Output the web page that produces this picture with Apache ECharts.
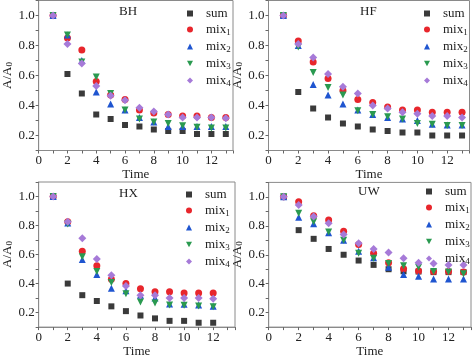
<!DOCTYPE html>
<html>
<head>
<meta charset="utf-8">
<script src="https://cdn.jsdelivr.net/npm/echarts@6/dist/echarts.min.js"></script>
<style>
    html, body { margin: 0; padding: 0; background: #fff; }
    #chart { width: 474px; height: 359px; }
</style>
</head>
<body>
<div id="chart"></div>
<script>
// Time points (x)
const times = [1, 2, 3, 4, 5, 6, 7, 8, 9, 10, 11, 12, 13];

// BH panel
const bhSum  = [1.0, 0.61, 0.48, 0.34, 0.31, 0.27, 0.26, 0.24, 0.23, 0.23, 0.21, 0.21, 0.21];
const bhMix1 = [1.0, 0.85, 0.77, 0.56, 0.47, 0.44, 0.37, 0.35, 0.34, 0.33, 0.33, 0.32, 0.32];
const bhMix2 = [1.0, 0.87, 0.70, 0.49, 0.41, 0.37, 0.32, 0.29, 0.26, 0.26, 0.26, 0.26, 0.26];
const bhMix3 = [1.0, 0.87, 0.69, 0.59, 0.48, 0.37, 0.31, 0.29, 0.28, 0.265, 0.255, 0.25, 0.25];
const bhMix4 = [1.0, 0.81, 0.68, 0.53, 0.465, 0.435, 0.385, 0.36, 0.34, 0.32, 0.32, 0.32, 0.315];

// HF panel
const hfSum  = [1.0, 0.49, 0.38, 0.32, 0.28, 0.26, 0.24, 0.23, 0.22, 0.22, 0.20, 0.20, 0.20];
const hfMix1 = [1.0, 0.83, 0.69, 0.58, 0.50, 0.44, 0.42, 0.39, 0.37, 0.37, 0.355, 0.355, 0.355];
const hfMix2 = [1.0, 0.80, 0.54, 0.47, 0.41, 0.37, 0.34, 0.32, 0.31, 0.30, 0.275, 0.27, 0.27];
const hfMix3 = [1.0, 0.79, 0.62, 0.52, 0.47, 0.365, 0.34, 0.325, 0.31, 0.28, 0.275, 0.267, 0.267];
const hfMix4 = [1.0, 0.81, 0.72, 0.61, 0.525, 0.48, 0.40, 0.38, 0.355, 0.345, 0.33, 0.33, 0.32];

// HX panel (12 points)
const hxSum  = [1.0, 0.40, 0.32, 0.28, 0.243, 0.21, 0.18, 0.16, 0.143, 0.143, 0.13, 0.13];
const hxMix1 = [1.0, 0.826, 0.623, 0.522, 0.43, 0.40, 0.365, 0.344, 0.344, 0.335, 0.335, 0.335];
const hxMix2 = [1.0, 0.817, 0.566, 0.463, 0.367, 0.35, 0.32, 0.30, 0.26, 0.257, 0.253, 0.243];
const hxMix3 = [1.0, 0.81, 0.584, 0.483, 0.408, 0.33, 0.273, 0.266, 0.253, 0.25, 0.245, 0.24];
const hxMix4 = [1.0, 0.826, 0.712, 0.57, 0.458, 0.383, 0.32, 0.32, 0.30, 0.30, 0.30, 0.296];

// UW panel
const uwSum  = [1.0, 0.77, 0.71, 0.64, 0.60, 0.56, 0.53, 0.50, 0.486, 0.484, 0.48, 0.48, 0.48];
const uwMix1 = [1.0, 0.966, 0.87, 0.84, 0.763, 0.67, 0.61, 0.544, 0.504, 0.488, 0.484, 0.484, 0.48];
const uwMix2 = [1.0, 0.86, 0.815, 0.752, 0.70, 0.625, 0.58, 0.513, 0.464, 0.452, 0.432, 0.432, 0.432];
const uwMix3 = [1.0, 0.886, 0.828, 0.758, 0.70, 0.61, 0.575, 0.54, 0.524, 0.513, 0.484, 0.48, 0.468];
const uwMix4 = [1.0, 0.944, 0.864, 0.817, 0.74, 0.68, 0.64, 0.616, 0.575, 0.544, 0.54, 0.53, 0.53];

const seriesNames = ["sum", "mix1", "mix2", "mix3", "mix4"];
const panelTitles = ["BH", "HF", "HX", "UW"];
const panelData = [
    [bhSum, bhMix1, bhMix2, bhMix3, bhMix4],
    [hfSum, hfMix1, hfMix2, hfMix3, hfMix4],
    [hxSum, hxMix1, hxMix2, hxMix3, hxMix4],
    [uwSum, uwMix1, uwMix2, uwMix3, uwMix4],
];

const colors = ["#3a3a3a", "#e8262c", "#1f55d0", "#2a9a50", "#a67ad8"];
const symbols = ["rect", "circle", "triangle", "path://M0,0 L10,0 L5,9 Z", "diamond"];
const symbolSizes = [6, 7, 7, 7, 8];

const FONT = "Liberation Serif";

// panel frames (pixels)
const grids = [
    { left: 31, top: 0.5, width: 202, height: 150 },
    { left: 268.5, top: 0.5, width: 201, height: 150 },
    { left: 31, top: 182, width: 204, height: 146 },
    { left: 268.7, top: 182.4, width: 202.5, height: 149 },
];
const titlePos = [[119, 5], [360, 5], [119, 187], [358, 185]];
const legendPos = [[187, 7], [424, 7], [186, 188], [426, 185]];

const chart = echarts.init(document.getElementById("chart"));

const subRich = {
    a: { fontFamily: FONT, fontSize: 13, color: "#222", lineHeight: 14, padding: [0, 0, 0, 8] },
    s: { fontFamily: FONT, fontSize: 9, color: "#222", lineHeight: 14, padding: [6, 0, 0, 0] },
};

const option = {
    animation: false,
    title: panelTitles.map((t, i) => ({
        text: t,
        left: titlePos[i][0],
        top: titlePos[i][1],
        padding: 0,
        textStyle: { fontFamily: FONT, fontSize: 13, fontWeight: "normal", color: "#222" },
    })),
    legend: legendPos.map((p) => ({
        data: seriesNames,
        orient: "vertical",
        left: p[0],
        top: p[1],
        padding: 0,
        itemWidth: 6,
        itemHeight: 6,
        itemGap: 2,
        selectedMode: false,
        formatter: (name) => (name === "sum" ? "{a|sum}" : "{a|mix}{s|" + name.slice(3) + "}"),
        textStyle: { rich: subRich },
    })),
    grid: grids.map((g) => ({ ...g, show: true, borderColor: "#8a8a8a", borderWidth: 1, containLabel: false })),
    xAxis: grids.map((g, i) => ({
        gridIndex: i,
        type: "value",
        min: 0,
        max: 13.5,
        interval: 1,
        name: "Time",
        nameLocation: "middle",
        nameGap: 16,
        nameTextStyle: { fontFamily: FONT, fontSize: 13, color: "#222" },
        axisLine: { show: true, lineStyle: { color: "#8a8a8a" } },
        axisTick: { show: true, inside: false, length: 3, lineStyle: { color: "#666" } },
        splitLine: { show: false },
        axisLabel: {
            fontFamily: FONT,
            fontSize: 13,
            color: "#222",
            margin: 4,
            formatter: (v) => (Math.abs(v - Math.round(v)) < 1e-6 && Math.round(v) % 2 === 0 ? String(Math.round(v)) : ""),
        },
    })),
    yAxis: grids.map((g, i) => ({
        gridIndex: i,
        type: "value",
        min: 0.1,
        max: 1.1,
        interval: 0.1,
        name: "A/A{s|0}",
        nameLocation: "middle",
        nameGap: 17,
        nameTextStyle: {
            fontFamily: FONT,
            fontSize: 13,
            color: "#222",
            rich: { s: { fontFamily: FONT, fontSize: 9, color: "#222", padding: [5, 0, 0, 0] } },
        },
        axisLine: { show: true, lineStyle: { color: "#8a8a8a" } },
        axisTick: { show: true, inside: false, length: 3, lineStyle: { color: "#666" } },
        splitLine: { show: false },
        axisLabel: {
            fontFamily: FONT,
            fontSize: 13,
            color: "#222",
            margin: 4,
            formatter: (v) => {
                const k = Math.round(v * 10);
                return k % 2 === 0 && k <= 10 ? (k / 10).toFixed(1) : "";
            },
        },
    })),
    series: [],
};

panelData.forEach((sets, p) => {
    sets.forEach((vals, s) => {
        option.series.push({
            name: seriesNames[s],
            type: "scatter",
            xAxisIndex: p,
            yAxisIndex: p,
            symbol: symbols[s],
            symbolSize: symbolSizes[s],
            itemStyle: { color: colors[s], opacity: 1 },
            data: vals.map((v, k) => [times[k], v]),
        });
    });
});

chart.setOption(option);
</script>
</body>
</html>
